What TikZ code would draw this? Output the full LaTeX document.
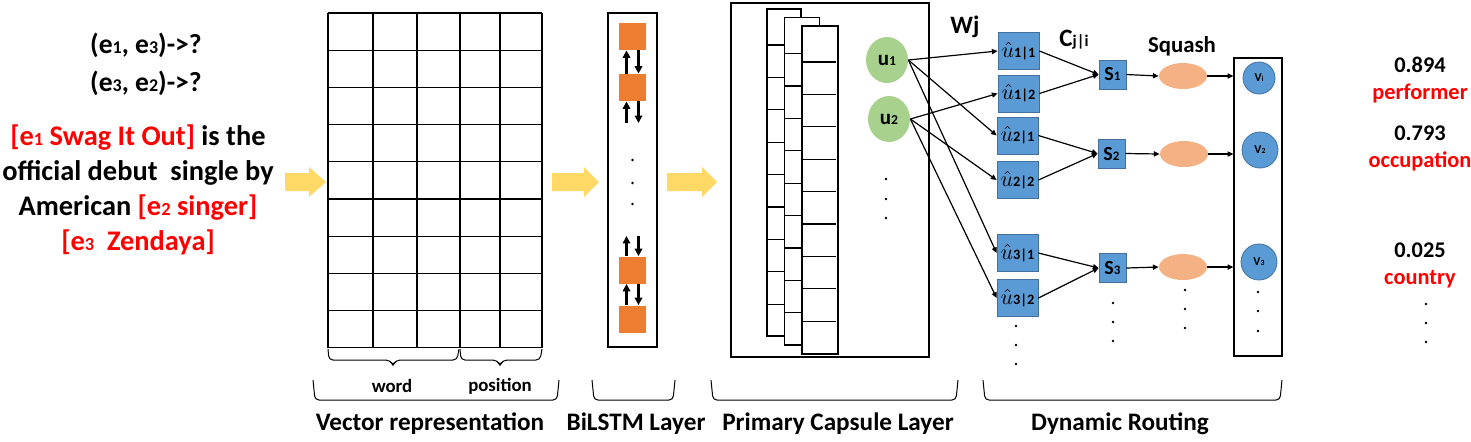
\documentclass[tikz,border=0pt]{standalone}
\usepackage{fontspec}
\setmainfont{Carlito}
\usetikzlibrary{arrows.meta,calc,positioning,shapes.geometric}
\definecolor{feedyellow}{HTML}{FFD966}
\definecolor{lstmorange}{HTML}{ED7D31}
\definecolor{capsgreen}{HTML}{A9D18E}
\definecolor{predblue}{HTML}{5B9BD5}
\definecolor{predline}{HTML}{41719C}
\definecolor{squashpeach}{HTML}{F4B183}
\newcommand\idx[1]{\scalebox{0.65}{#1}}
\tikzset{
  lbl/.style={align=center,font=\fontsize{12.6}{17.5}\selectfont\bfseries},
  sentence/.style={align=center,font=\fontsize{14.2}{17.5}\selectfont\bfseries},
  score/.style={align=center,font=\fontsize{11.2}{13.5}\selectfont\bfseries},
  small/.style={font=\fontsize{9.4}{10}\selectfont\bfseries},
  feed/.style={fill=feedyellow,draw=none},
  gridline/.style={draw,line width=0.6pt},
  frame/.style={draw,line width=0.6pt,rectangle,inner sep=0pt},
  strip/.style={draw,fill=white,line width=0.6pt},
  cell/.style={fill=lstmorange,rectangle,minimum size=13.5pt,inner sep=0pt},
  bi/.style={-{Triangle[length=1.3mm,width=1.3mm]},line width=1.1pt},
  caps/.style={fill=capsgreen,ellipse,minimum width=21pt,minimum height=23pt,inner sep=0pt,font=\fontsize{10.5}{10.5}\selectfont\bfseries},
  pred/.style={fill=predblue,draw=predline,line width=0.4pt,rectangle,minimum width=20.5pt,minimum height=18.5pt,inner sep=0pt,font=\fontsize{11}{11}\selectfont\bfseries},
  sumbox/.style={fill=predblue,draw=predline,line width=0.4pt,rectangle,minimum width=13.5pt,minimum height=14.5pt,inner sep=0pt,font=\fontsize{10}{10}\selectfont\bfseries},
  squash/.style={fill=squashpeach,ellipse,minimum width=24pt,minimum height=13pt,inner sep=0pt},
  outcaps/.style={fill=predblue,draw=predline,line width=0.4pt,circle,inner sep=0pt,font=\fontsize{6}{6}\selectfont\bfseries},
  wt/.style={-{Triangle[length=1mm,width=0.9mm]},line width=0.6pt},
  brk/.style={draw,line width=0.5pt,rounded corners=2pt},
  vdot/.style={circle,fill,inner sep=0pt,minimum size=1.3pt},
}

\begin{document}
\begin{tikzpicture}[x=0.5pt,y=-0.5pt]
  \useasboundingbox (0,0) rectangle (1471,441);

  % input sentence
  \node[sentence,font=\fontsize{13.8}{19}\selectfont\bfseries] (query) at (146,64)
    {(e\idx{1}, e\idx{3})->?\\(e\idx{3}, e\idx{2})->?};
  \node[sentence] (sent) at (138,190)
    {\textcolor{red}{[e\idx{1} Swag It Out]} is the\\
     official debut\ \ single by\\
     American \textcolor{red}{[e\idx{2} singer]}\\
     \textcolor{red}{[e\idx{3}\ \ Zendaya]}};

  % feed arrows
  \fill[feed] (285,173) -- (309,173) -- (309,167) -- (326,182) -- (309,197) -- (309,191) -- (285,191) -- cycle;
  \fill[feed] (552,173) -- (584,173) -- (584,167) -- (599,182) -- (584,197) -- (584,191) -- (552,191) -- cycle;
  \fill[feed] (667,173) -- (702,173) -- (702,167) -- (717,182) -- (702,197) -- (702,191) -- (667,191) -- cycle;

  % vector representation
  \foreach \y in {0,...,9}
    \draw[gridline] (328,{13+37.2*\y}) -- (542,{13+37.2*\y});
  \foreach \x in {328,373,417,460,500,542}
    \draw[gridline] (\x,13) -- (\x,348);
  \draw[brk] (328,349) -- (329,360) -- (390,360) -- (393,366) -- (396,360) -- (457,360) -- (459,349);
  \draw[brk] (460,349) -- (461,360) -- (497,360) -- (500,366) -- (503,360) -- (540,360) -- (542,349);
  \node[small] (word) at (392,386) {word};
  \node[small] (posn) at (500,386) {position};

  % BiLSTM
  \node[frame,minimum width=24.5pt,minimum height=167pt] (lstm) at (632.5,180) {};
  \node[cell] (c1) at (632.5,36.5) {};
  \node[cell] (c2) at (632.5,87.5) {};
  \node[cell] (c3) at (632.5,270) {};
  \node[cell] (c4) at (632.5,319) {};
  \coordinate (g1) at (632.5,123);
  \coordinate (g2) at (632.5,236);
  \draw[bi] ([xshift=-3pt]c2.north) -- ([xshift=-3pt]c1.south);
  \draw[bi] ([xshift=3pt]c1.south) -- ([xshift=3pt]c2.north);
  \draw[bi] ([xshift=-3pt]g1) -- ([xshift=-3pt]c2.south);
  \draw[bi] ([xshift=3pt]c2.south) -- ([xshift=3pt]g1);
  \draw[bi] ([xshift=-3pt]c3.north) -- ([xshift=-3pt]g2);
  \draw[bi] ([xshift=3pt]g2) -- ([xshift=3pt]c3.north);
  \draw[bi] ([xshift=-3pt]c4.north) -- ([xshift=-3pt]c3.south);
  \draw[bi] ([xshift=3pt]c3.south) -- ([xshift=3pt]c4.north);
  \foreach \y in {160,183,204}
    \node[vdot] (ld\y) at (632.5,\y) {};

  % primary capsules
  \node[frame,minimum width=99pt,minimum height=177pt] (pcap) at (830,180) {};
  \foreach \k in {0,1,2}{
    \pgfmathsetmacro{\xa}{767+17.5*\k}
    \pgfmathsetmacro{\xb}{801+18.5*\k}
    \pgfmathsetmacro{\ya}{9+8.5*\k}
    \pgfmathsetmacro{\yb}{336+9*\k}
    \filldraw[strip] (\xa,\ya) rectangle (\xb,\yb);
    \foreach \i in {0,...,8}
      \draw[strip] (\xa,{\ya+36+32.4*\i}) -- ({\xb-2},{\ya+36+32.4*\i});
  }
  \node[caps] (u1) at (887,60) {u\idx{1}};
  \node[caps] (u2) at (889,119) {u\idx{2}};
  \foreach \y in {179,199,218}
    \node[vdot] (pd\y) at (886,\y) {};

  % dynamic routing
  \node[lbl,font=\fontsize{12.5}{13}\selectfont\bfseries] (wj) at (965,27) {Wj};
  \node[lbl,font=\fontsize{12.5}{13}\selectfont\bfseries] (cji) at (1074,40) {C\idx{j|i}};
  \node[lbl,font=\fontsize{11.4}{12}\selectfont\bfseries] (sq) at (1182,46) {Squash};

  \node[pred] (h11) at (1018.5,51)  {$\hat{u}$\idx{1|1}};
  \node[pred] (h12) at (1018.5,93.5){$\hat{u}$\idx{1|2}};
  \node[pred] (h21) at (1017.5,135.5){$\hat{u}$\idx{2|1}};
  \node[pred] (h22) at (1017.5,180) {$\hat{u}$\idx{2|2}};
  \node[pred] (h31) at (1017.5,253) {$\hat{u}$\idx{3|1}};
  \node[pred] (h32) at (1017.5,298) {$\hat{u}$\idx{3|2}};
  \foreach \y in {326,345,364}
    \node[vdot] (hd\y) at (1016,\y) {};

  \draw[wt] (u1.east) -- (h11.west);
  \draw[wt] (u1.east) -- (h21.west);
  \draw[wt] (u1.east) -- (h31.west);
  \draw[wt] (u2.east) -- (h12.west);
  \draw[wt] (u2.east) -- (h22.west);
  \draw[wt] (u2.east) -- (h32.west);

  \node[sumbox] (s1) at (1112.5,74.5) {S\idx{1}};
  \node[sumbox] (s2) at (1111.5,153.5) {S\idx{2}};
  \node[sumbox] (s3) at (1112.5,268) {S\idx{3}};
  \foreach \y in {303,322,341}
    \node[vdot] (sd\y) at (1113,\y) {};
  \draw[wt] (h11.east) -- (s1.west);
  \draw[wt] (h12.east) -- (s1.west);
  \draw[wt] (h21.east) -- (s2.west);
  \draw[wt] (h22.east) -- (s2.west);
  \draw[wt] (h31.east) -- (s3.west);
  \draw[wt] (h32.east) -- (s3.west);

  \node[squash] (q1) at (1183,76) {};
  \node[squash] (q2) at (1184,154) {};
  \node[squash] (q3) at (1183,267) {};
  \foreach \y in {290,309,328}
    \node[vdot] (qd\y) at (1185,\y) {};
  \draw[wt] (s1.east) -- (q1.west);
  \draw[wt] (s2.east) -- (q2.west);
  \draw[wt] (s3.east) -- (q3.west);

  \node[frame,minimum width=24pt,minimum height=149pt] (vbox) at (1258,207) {};
  \node[outcaps,minimum size=16pt] (v1) at (1259,78) {V\idx{i}};
  \node[outcaps,minimum size=18pt] (v2) at (1260,150) {V\idx{2}};
  \node[outcaps,minimum size=18pt] (v3) at (1259,262) {V\idx{3}};
  \foreach \y in {292,311,331}
    \node[vdot] (vd\y) at (1258,\y) {};
  \draw[wt] (q1.east) -- (q1.east -| vbox.west);
  \draw[wt] (q2.east) -- (q2.east -| vbox.west);
  \draw[wt] (q3.east) -- (q3.east -| vbox.west);

  % scores
  \node[score] (r1) at (1420,80)  {0.894\\\textcolor{red}{performer}};
  \node[score] (r2) at (1420,148) {0.793\\\textcolor{red}{occupation}};
  \node[score] (r3) at (1420,265) {0.025\\\textcolor{red}{country}};
  \foreach \y in {304,323,342}
    \node[vdot] (rd\y) at (1426,\y) {};

  % layer brackets
  \draw[brk] (313,380) -- (315,400) -- (557,400) -- (559,380);
  \draw[brk] (592,380) -- (594,400) -- (673,400) -- (675,380);
  \draw[brk] (711,380) -- (713,400) -- (956,400) -- (958,380);
  \draw[brk] (983,380) -- (985,400) -- (1280,400) -- (1282,380);
  \node[lbl] (lvec)  at (430,424)  {Vector representation};
  \node[lbl] (llstm) at (636,424)  {BiLSTM Layer};
  \node[lbl] (lcap)  at (838,424)  {Primary Capsule Layer};
  \node[lbl] (lrout) at (1120,424) {Dynamic Routing};

\end{tikzpicture}
\end{document}
